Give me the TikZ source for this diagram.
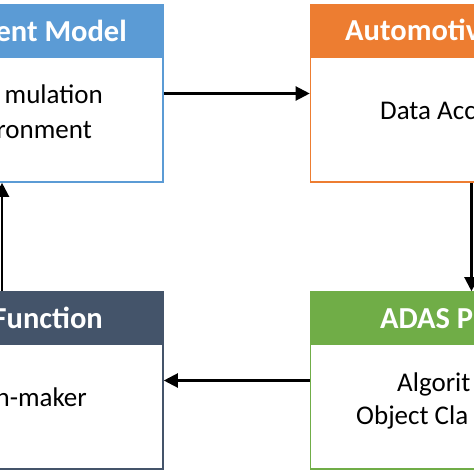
\documentclass[tikz,border=0pt]{standalone}
\usepackage{fontspec}
\setmainfont{Carlito}
\usetikzlibrary{arrows.meta}

\definecolor{envblue}{HTML}{5B9BD5}
\definecolor{sensorange}{HTML}{ED7D31}
\definecolor{adasgreen}{HTML}{70AD47}
\definecolor{funcslate}{HTML}{44546A}

\begin{document}
\begin{tikzpicture}[x=1pt,y=-1pt,
  panel/.style={draw=#1, line width=1.6pt, fill=white, minimum width=322pt, minimum height=177pt, inner sep=0pt},
  headbar/.style={draw=#1, fill=#1, line width=1.6pt, minimum width=322pt, minimum height=52pt, inner sep=0pt},
  headtxt/.style={text=white, font=\fontsize{30.5}{36}\selectfont\bfseries, inner sep=0pt},
  bodytxt/.style={font=\fontsize{27}{33}\selectfont, inner sep=0pt},
  flow/.style={line width=2.2pt, -{Triangle[length=14pt,width=14pt]}}]
\def\xl{2}
\def\xr{471.5}
\def\yt{93.5}
\def\yb{380.5}

\useasboundingbox (0,0) rectangle (474,474);
\clip (0,0) rectangle (474,474);

\node[panel=envblue] (env) at (\xl,\yt) {};
\node[headbar=envblue, anchor=north] (envhead) at (env.north) {};
\node[panel=sensorange] (sens) at (\xr,\yt) {};
\node[headbar=sensorange, anchor=north] (senshead) at (sens.north) {};
\node[panel=adasgreen] (adas) at (\xr,\yb) {};
\node[headbar=adasgreen, anchor=north] (adashead) at (adas.north) {};
\node[panel=funcslate] (func) at (\xl,\yb) {};
\node[headbar=funcslate, anchor=north] (funchead) at (func.north) {};

\node[headtxt, anchor=base east] (envtitle) at (127,41) {ent Model};
\node[bodytxt, anchor=base east] (envline1) at (103,103) {mulation};
\node[bodytxt, anchor=base east] (envline2) at (92,138) {ronment};

\node[headtxt, anchor=base west] (senstitle) at (345,40) {Automotiv};
\node[bodytxt, anchor=base west] (sensline) at (380,119) {Data Acc};

\node[headtxt, anchor=base west] (adastitle) at (380,328) {ADAS P};
\node[bodytxt, anchor=base west] (adasline1) at (397,391) {Algorit};
\node[bodytxt, anchor=base west] (adasline2) at (356,424) {Object Cla};

\node[headtxt, anchor=base east] (functitle) at (103,328) {Function};
\node[bodytxt, anchor=base east] (funcline) at (87,406) {n-maker};

\draw[flow] (env.east) -- (sens.west);
\draw[flow] (sens.south) -- (adashead.north);
\draw[flow] (adas.west) -- (func.east);
\draw[flow] (funchead.north) -- (env.south);

\end{tikzpicture}
\end{document}
